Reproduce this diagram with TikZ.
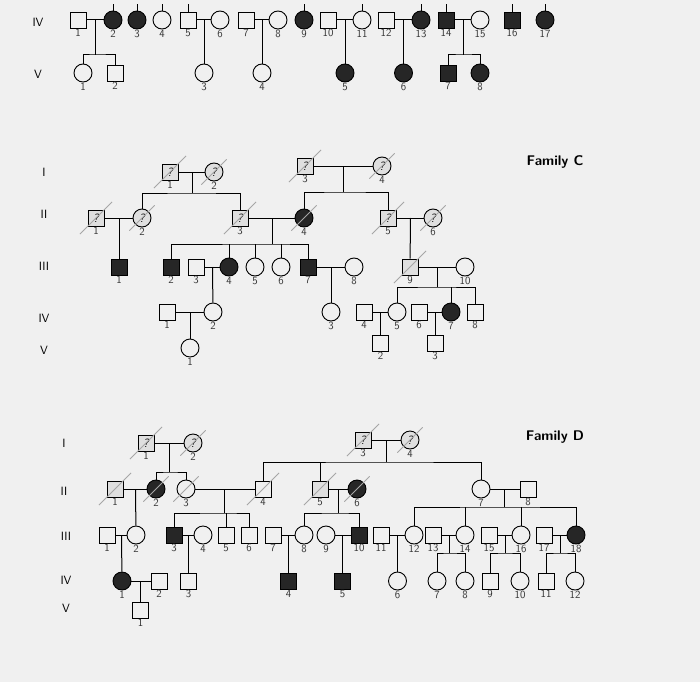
\documentclass[tikz,border=0pt]{standalone}
\usetikzlibrary{calc}
\tikzset{
 m/.style={draw,minimum size=16pt,inner sep=0pt,line width=0.9pt},
 f/.style={draw,circle,minimum size=18pt,inner sep=0pt,line width=0.9pt},
 aff/.style={fill=black!85},
 qq/.style={fill=gray!25,font=\sffamily\itshape\fontsize{12}{12}\selectfont},
 lab/.style={font=\sffamily\fontsize{11}{11}\selectfont,inner sep=0.5pt,text=black!80},
 rowl/.style={font=\sffamily\fontsize{12}{12}\selectfont},
 ln/.style={line width=1pt},
}
\newcommand\pp[6]{\node[#1,label={[lab]below:#5}] (#2) at (#3,#4) {#6};}
\newcommand\dd[1]{\draw[gray!70,line width=0.8pt] ($(#1.225)!-0.45!(#1.45)$) -- ($(#1.45)!-0.45!(#1.225)$);}
\newcommand\cpl[2]{\draw[ln] (#1) -- (#2);}
\begin{document}
\begin{tikzpicture}[x=1pt,y=-1pt]
\fill[gray!12] (0,0) rectangle (700,682);
\useasboundingbox (0,0) rectangle (700,682);
\coordinate (top) at (0,4);
% ---------- top family ----------
\node[rowl] (tlIV) at (38,22) {IV};
\node[rowl] (tlV) at (38,74) {V};
\pp{m}{t1}{78}{20}{1}{} \pp{f,aff}{t2}{113}{20}{2}{} \pp{f,aff}{t3}{137}{20}{3}{}
\pp{f}{t4}{162}{20}{4}{} \pp{m}{t5}{188}{20}{5}{} \pp{f}{t6}{220}{20}{6}{}
\pp{m}{t7}{246}{20}{7}{} \pp{f}{t8}{278}{20}{8}{} \pp{f,aff}{t9}{304}{20}{9}{}
\pp{m}{t10}{328}{20}{10}{} \pp{f}{t11}{362}{20}{11}{} \pp{m}{t12}{386}{20}{12}{}
\pp{f,aff}{t13}{421}{20}{13}{} \pp{m,aff}{t14}{446}{20}{14}{} \pp{f}{t15}{480}{20}{15}{}
\pp{m,aff}{t16}{512}{20}{16}{} \pp{f,aff}{t17}{545}{20}{17}{}
\foreach \n in {t2,t3,t4,t5,t9,t11,t13,t14,t16,t17} {\draw[ln] (\n) -- (\n|-top);}
\pp{f}{u1}{83}{73}{1}{} \pp{m}{u2}{115}{73}{2}{} \pp{f}{u3}{204}{73}{3}{}
\pp{f}{u4}{262}{73}{4}{} \pp{f,aff}{u5}{345}{73}{5}{} \pp{f,aff}{u6}{403.5}{73}{6}{}
\pp{m,aff}{u7}{448}{73}{7}{} \pp{f,aff}{u8}{480}{73}{8}{}
\cpl{t1}{t2} \cpl{t5}{t6} \cpl{t7}{t8} \cpl{t10}{t11} \cpl{t12}{t13} \cpl{t14}{t15}
\coordinate (tb1) at (95.5,55); \draw[ln] ($(t1)!.5!(t2)$) -- (tb1); \draw[ln] (u1) |- (tb1) -| (u2);
\draw[ln] ($(t5)!.5!(t6)$) -- (u3); \draw[ln] ($(t7)!.5!(t8)$) -- (u4);
\draw[ln] ($(t10)!.5!(t11)$) -- (u5); \draw[ln] ($(t12)!.5!(t13)$) -- (u6);
\coordinate (tb2) at (463,55); \draw[ln] ($(t14)!.5!(t15)$) -- (tb2); \draw[ln] (u7) |- (tb2) -| (u8);
% ---------- Family C ----------
\node[rowl] (clI) at (44,172) {I}; \node[rowl] (clII) at (44,214) {II};
\node[rowl] (clIII) at (44,266) {III}; \node[rowl] (clIV) at (44,318) {IV};
\node[rowl] (clV) at (44,350) {V};
\node[font=\sffamily\bfseries\fontsize{14}{14}\selectfont] (famC) at (555,162) {Family C};
\pp{m,qq}{cI1}{170}{172}{1}{?} \pp{f,qq}{cI2}{214}{172}{2}{?}
\pp{m,qq}{cI3}{305}{166}{3}{?} \pp{f,qq}{cI4}{382}{166}{4}{?}
\pp{m,qq}{cII1}{96}{218}{1}{?} \pp{f,qq}{cII2}{142}{218}{2}{?}
\pp{m,qq}{cII3}{240}{218}{3}{?} \pp{f,aff}{cII4}{304}{218}{4}{}
\pp{m,qq}{cII5}{388}{218}{5}{?} \pp{f,qq}{cII6}{433}{218}{6}{?}
\foreach \n in {cI1,cI2,cI3,cI4,cII1,cII2,cII3,cII4,cII5,cII6} {\dd{\n}}
\pp{m,aff}{cIII1}{119}{267}{1}{} \pp{m,aff}{cIII2}{171}{267}{2}{} \pp{m}{cIII3}{196}{267}{3}{}
\pp{f,aff}{cIII4}{229}{267}{4}{} \pp{f}{cIII5}{255}{267}{5}{} \pp{f}{cIII6}{281}{267}{6}{}
\pp{m,aff}{cIII7}{308}{267}{7}{} \pp{f}{cIII8}{354}{267}{8}{}
\pp{m,fill=gray!25}{cIII9}{410}{267}{9}{} \pp{f}{cIII10}{465}{267}{10}{} \dd{cIII9}
\pp{m}{cIV1}{167}{312}{1}{} \pp{f}{cIV2}{213}{312}{2}{} \pp{f}{cIV3}{331}{312}{3}{}
\pp{m}{cIV4}{364}{312}{4}{} \pp{f}{cIV5}{397}{312}{5}{} \pp{m}{cIV6}{419}{312}{6}{}
\pp{f,aff}{cIV7}{451}{312}{7}{} \pp{m}{cIV8}{475}{312}{8}{}
\pp{f}{cV1}{190}{348}{1}{} \pp{m}{cV2}{380.5}{343}{2}{} \pp{m}{cV3}{435}{343}{3}{}
\cpl{cI1}{cI2} \cpl{cI3}{cI4} \cpl{cII1}{cII2} \cpl{cII3}{cII4} \cpl{cII5}{cII6}
\cpl{cIII3}{cIII4} \cpl{cIII7}{cIII8} \cpl{cIII9}{cIII10} \cpl{cIV1}{cIV2} \cpl{cIV4}{cIV5} \cpl{cIV6}{cIV7}
\coordinate (cb1) at (192,193); \draw[ln] ($(cI1)!.5!(cI2)$) -- (cb1); \draw[ln] (cII2) |- (cb1) -| (cII3);
\coordinate (cb2) at (343.5,192); \draw[ln] ($(cI3)!.5!(cI4)$) -- (cb2); \draw[ln] (cII4) |- (cb2) -| (cII5);
\draw[ln] ($(cII1)!.5!(cII2)$) -- (cIII1);
\coordinate (cb3) at (272,244); \draw[ln] ($(cII3)!.5!(cII4)$) -- (cb3); \draw[ln] (cIII2) |- (cb3) -| (cIII7);
\foreach \n in {cIII4,cIII5,cIII6} {\draw[ln] (\n) -- (\n|-cb3);}
\draw[ln] ($(cIII3)!.5!(cIII4)$) -- (cIV2); \draw[ln] ($(cIV1)!.5!(cIV2)$) -- (cV1);
\draw[ln] ($(cIII7)!.5!(cIII8)$) -- (cIV3); \draw[ln] ($(cII5)!.5!(cII6)$) -- (cIII9);
\coordinate (cb4) at (437.5,287); \draw[ln] ($(cIII9)!.5!(cIII10)$) -- (cb4); \draw[ln] (cIV5) |- (cb4) -| (cIV8);
\draw[ln] (cIV7) -- (cIV7|-cb4);
\draw[ln] ($(cIV4)!.5!(cIV5)$) -- (cV2); \draw[ln] ($(cIV6)!.5!(cIV7)$) -- (cV3);
% ---------- Family D ----------
\node[rowl] (dlI) at (64,443) {I}; \node[rowl] (dlII) at (64,491) {II};
\node[rowl] (dlIII) at (66,536) {III}; \node[rowl] (dlIV) at (66,580) {IV};
\node[rowl] (dlV) at (66,608) {V};
\node[font=\sffamily\bfseries\fontsize{14}{14}\selectfont] (famD) at (555,437) {Family D};
\pp{m,qq}{dI1}{146}{443}{1}{?} \pp{f,qq}{dI2}{193}{443}{2}{?}
\pp{m,qq}{dI3}{363}{440}{3}{?} \pp{f,qq}{dI4}{410}{440}{4}{?}
\pp{m,fill=gray!25}{dII1}{115}{489}{1}{} \pp{f,aff}{dII2}{156}{489}{2}{}
\pp{f}{dII3}{186}{489}{3}{} \pp{m}{dII4}{263}{489}{4}{}
\pp{m,fill=gray!25}{dII5}{320}{489}{5}{} \pp{f,aff}{dII6}{357}{489}{6}{}
\pp{f}{dII7}{481}{489}{7}{} \pp{m}{dII8}{528}{489}{8}{}
\foreach \n in {dI1,dI2,dI3,dI4,dII1,dII2,dII3,dII4,dII5,dII6} {\dd{\n}}
\pp{m}{dIII1}{107}{535}{1}{} \pp{f}{dIII2}{136}{535}{2}{} \pp{m,aff}{dIII3}{174}{535}{3}{}
\pp{f}{dIII4}{203}{535}{4}{} \pp{m}{dIII5}{226}{535}{5}{} \pp{m}{dIII6}{249}{535}{6}{}
\pp{m}{dIII7}{273}{535}{7}{} \pp{f}{dIII8}{304}{535}{8}{} \pp{f}{dIII9}{326}{535}{9}{}
\pp{m,aff}{dIII10}{359}{535}{10}{} \pp{m}{dIII11}{381}{535}{11}{} \pp{f}{dIII12}{414}{535}{12}{}
\pp{m}{dIII13}{433}{535}{13}{} \pp{f}{dIII14}{465}{535}{14}{} \pp{m}{dIII15}{489}{535}{15}{}
\pp{f}{dIII16}{521}{535}{16}{} \pp{m}{dIII17}{544}{535}{17}{} \pp{f,aff}{dIII18}{576}{535}{18}{}
\pp{f,aff}{dIV1}{122}{581}{1}{} \pp{m}{dIV2}{159}{581}{2}{} \pp{m}{dIV3}{188.5}{581}{3}{}
\pp{m,aff}{dIV4}{288.5}{581}{4}{} \pp{m,aff}{dIV5}{342.5}{581}{5}{} \pp{f}{dIV6}{397.5}{581}{6}{}
\pp{f}{dIV7}{437}{581}{7}{} \pp{f}{dIV8}{465}{581}{8}{} \pp{m}{dIV9}{490}{581}{9}{}
\pp{f}{dIV10}{520}{581}{10}{} \pp{m}{dIV11}{546}{581}{11}{} \pp{f}{dIV12}{575}{581}{12}{}
\pp{m}{dV1}{140.5}{610}{1}{}
\cpl{dI1}{dI2} \cpl{dI3}{dI4} \cpl{dII1}{dII2} \cpl{dII3}{dII4} \cpl{dII5}{dII6} \cpl{dII7}{dII8}
\cpl{dIII1}{dIII2} \cpl{dIII3}{dIII4} \cpl{dIII7}{dIII8} \cpl{dIII9}{dIII10} \cpl{dIII11}{dIII12}
\cpl{dIII13}{dIII14} \cpl{dIII15}{dIII16} \cpl{dIII17}{dIII18} \cpl{dIV1}{dIV2}
\coordinate (db1) at (169.5,472); \draw[ln] ($(dI1)!.5!(dI2)$) -- (db1); \draw[ln] (dII2) |- (db1) -| (dII3);
\coordinate (db2) at (386.5,462); \draw[ln] ($(dI3)!.5!(dI4)$) -- (db2); \draw[ln] (dII4) |- (db2) -| (dII7);
\draw[ln] (dII5) -- (dII5|-db2);
\draw[ln] ($(dII1)!.5!(dII2)$) -- (dIII2);
\coordinate (db3) at (224.5,513); \draw[ln] ($(dII3)!.5!(dII4)$) -- (db3); \draw[ln] (dIII3) |- (db3) -| (dIII6);
\draw[ln] (dIII5) -- (dIII5|-db3);
\coordinate (db4) at (338.5,513); \draw[ln] ($(dII5)!.5!(dII6)$) -- (db4); \draw[ln] (dIII8) |- (db4) -| (dIII10);
\coordinate (db5) at (504.5,507); \draw[ln] ($(dII7)!.5!(dII8)$) -- (db5); \draw[ln] (dIII12) |- (db5) -| (dIII18);
\foreach \n in {dIII14,dIII16} {\draw[ln] (\n) -- (\n|-db5);}
\draw[ln] ($(dIII1)!.5!(dIII2)$) -- (dIV1); \draw[ln] ($(dIV1)!.5!(dIV2)$) -- (dV1);
\draw[ln] ($(dIII3)!.5!(dIII4)$) -- (dIV3); \draw[ln] ($(dIII7)!.5!(dIII8)$) -- (dIV4);
\draw[ln] ($(dIII9)!.5!(dIII10)$) -- (dIV5); \draw[ln] ($(dIII11)!.5!(dIII12)$) -- (dIV6);
\coordinate (db6) at (449,553); \draw[ln] ($(dIII13)!.5!(dIII14)$) -- (db6); \draw[ln] (dIV7) |- (db6) -| (dIV8);
\coordinate (db7) at (505,553); \draw[ln] ($(dIII15)!.5!(dIII16)$) -- (db7); \draw[ln] (dIV9) |- (db7) -| (dIV10);
\coordinate (db8) at (560,553); \draw[ln] ($(dIII17)!.5!(dIII18)$) -- (db8); \draw[ln] (dIV11) |- (db8) -| (dIV12);
\end{tikzpicture}
\end{document}
